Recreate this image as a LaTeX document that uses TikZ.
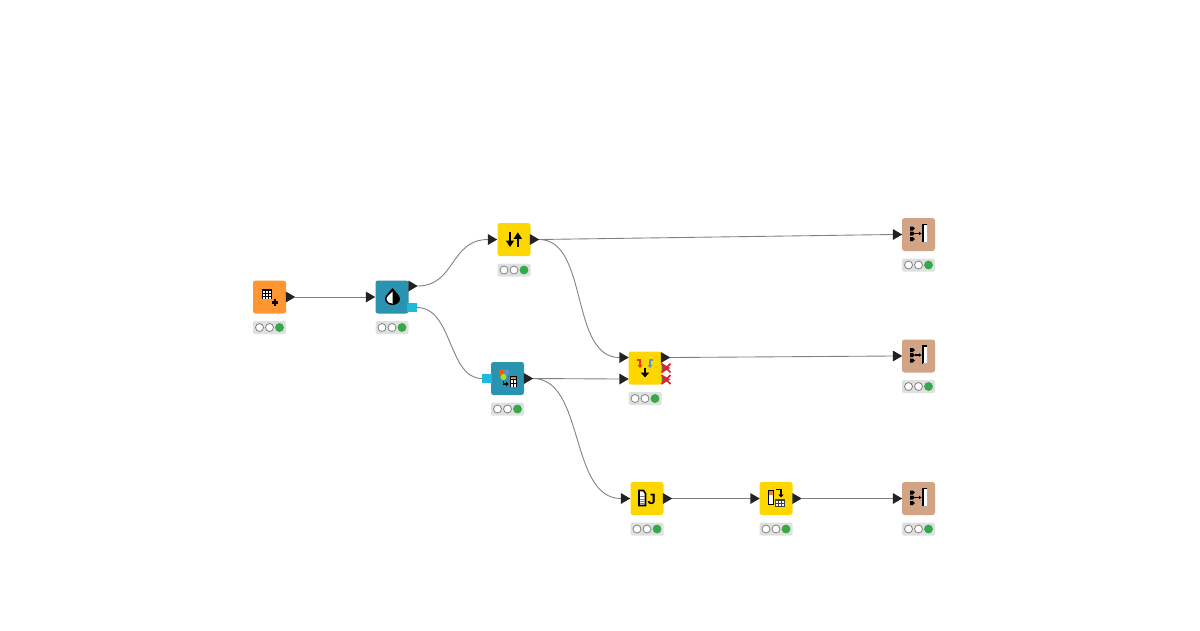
\documentclass[tikz,border=0pt]{standalone}
\usepackage{fontspec}
\setsansfont{Liberation Sans}
\usetikzlibrary{calc, positioning, arrows.meta}

\definecolor{knorange}{HTML}{FF9632}
\definecolor{knblue}{HTML}{2A93B0}
\definecolor{knyellow}{HTML}{FFD700}
\definecolor{knbrown}{HTML}{D2A384}
\definecolor{kncyan}{HTML}{1FB9DC}
\definecolor{kngreen}{HTML}{37A84A}
\definecolor{knbar}{HTML}{DFE1E0}
\definecolor{knport}{HTML}{222222}
\definecolor{knred}{HTML}{EE1C25}
\definecolor{knhead}{HTML}{E8873A}

\tikzset{
 knode/.style={rectangle, rounded corners=0.05cm, minimum size=0.66cm, inner sep=0pt, outer sep=0pt},
 lightbar/.style={rectangle, rounded corners=0.03cm, fill=knbar, minimum width=0.66cm, minimum height=0.26cm, inner sep=0pt},
 lamp/.style={circle, draw=black!50, line width=0.45pt, fill=white, minimum size=0.16cm, inner sep=0pt},
 wire/.style={black!50, line width=0.5pt},
 portin/.pic={\fill[knport] (-4.7,-5.5) -- (4.7,0) -- (-4.7,5.5) -- cycle;},
 portcyan/.pic={\fill[kncyan] (-5,-4.5) rectangle (5,4.5);},
 deadport/.pic={
  \fill[knport!70] (-4.5,-5) -- (4.5,0) -- (-4.5,5) -- cycle;
  \draw[knred, line width=1pt] (-4.5,-4.5) -- (4.5,4.5) (-4.5,4.5) -- (4.5,-4.5);},
 arrowdown/.pic={\fill (-1,-7.5) rectangle (1,2); \fill (-4.2,1) -- (4.2,1) -- (0,7.5) -- cycle;},
 arrowup/.pic={\fill (-1,7.5) rectangle (1,-2); \fill (-4.2,-1) -- (4.2,-1) -- (0,-7.5) -- cycle;},
 gridicon/.pic={
  \fill[black] (0,0) rectangle (10,10);
  \foreach \i in {1,4,7} \foreach \j in {1.5,4.5,7.5} {\fill[white] (\i,\j) rectangle ++(2,2);}},
 toicon/.pic={
  \fill (-8.5,-8) -- (-5.5,-8) -- (-3.7,-6) -- (-5.5,-4) -- (-8.5,-4) -- cycle;
  \fill (-8.5,-3) -- (-5.5,-3) -- (-3.7,-1) -- (-5.5,1) -- (-8.5,1) -- cycle;
  \fill (-8.5,2.5) -- (-5.5,2.5) -- (-3.7,4.5) -- (-5.5,6.5) -- (-8.5,6.5) -- cycle;
  \draw[line width=0.6pt] (-3.5,-1) -- (1.5,-1);
  \fill (3,-1) -- (0.5,-2.8) -- (0.5,0.8) -- cycle;
  \fill[white] (4.5,-10) rectangle (8.5,7.5);
  \draw[black, line width=0.7pt] (8.5,-10) -- (4.5,-10) -- (4.5,7.5);
  \draw[black!30, line width=0.5pt] (4.5,7.5) -- (8.5,7.5) -- (8.5,-10);},
}

\begin{document}
\begin{tikzpicture}[x=0.02cm, y=-0.02cm]
 \useasboundingbox (0,0) rectangle (1200,630);
 \fill[white] (0,0) rectangle (1200,630);

 \node[knode, fill=knorange] (creator) at (269.5,297) {};
 \node[knode, fill=knblue] (density) at (392,297) {};
 \node[knode, fill=knyellow] (sorter) at (514,239.5) {};
 \node[knode, fill=knblue] (colorer) at (507.5,378.5) {};
 \node[knode, fill=knyellow] (merger) at (645,368) {};
 \node[knode, fill=knyellow] (jsonwriter) at (647,498.5) {};
 \node[knode, fill=knyellow] (converter) at (776,498.5) {};
 \node[knode, fill=knbrown] (outa) at (918.5,234.5) {};
 \node[knode, fill=knbrown] (outb) at (918.5,356) {};
 \node[knode, fill=knbrown] (outc) at (918.5,498.5) {};

 % traffic lights
 \foreach \n in {creator, density, sorter, colorer, merger, jsonwriter, converter, outa, outb, outc} {
  \node[lightbar] (\n bar) at ($(\n)+(0,30.5)$) {};
  \node[lamp] at ($(\n bar)+(-10,0)$) {};
  \node[lamp] at ($(\n bar)+(0,0)$) {};
  \node[lamp, fill=kngreen, draw=kngreen] at ($(\n bar)+(10,0)$) {};
 }

 % port ends
 \coordinate (creatorout) at ($(creator)+(25.5,0)$);
 \coordinate (densityin) at ($(density)+(-26,0)$);
 \coordinate (densityout) at ($(density)+(25.5,-11)$);
 \coordinate (densitycyan) at ($(density)+(25,10.5)$);
 \coordinate (sorterin) at ($(sorter)+(-26,0)$);
 \coordinate (sorterout) at ($(sorter)+(25,0)$);
 \coordinate (colorerin) at ($(colorer)+(-25.5,0)$);
 \coordinate (colorerout) at ($(colorer)+(25.5,0)$);
 \coordinate (mergerina) at ($(merger)+(-25.5,-10.5)$);
 \coordinate (mergerinb) at ($(merger)+(-25.5,11)$);
 \coordinate (mergerout) at ($(merger)+(25,-10.5)$);
 \coordinate (jsonin) at ($(jsonwriter)+(-26,0)$);
 \coordinate (jsonout) at ($(jsonwriter)+(25,0)$);
 \coordinate (convin) at ($(converter)+(-25.5,0)$);
 \coordinate (convout) at ($(converter)+(25.5,0)$);
 \coordinate (outain) at ($(outa)+(-25.5,0)$);
 \coordinate (outbin) at ($(outb)+(-25.5,0)$);
 \coordinate (outcin) at ($(outc)+(-25.5,0)$);

 % connections
 \draw[wire] (creatorout) -- (densityin);
 \draw[wire] (densityout) .. controls ($(densityout)+(38,0)$) and ($(sorterin)+(-38,0)$) .. (sorterin);
 \draw[wire] (densitycyan) .. controls ($(densitycyan)+(36,0)$) and ($(colorerin)+(-34,0)$) .. (colorerin);
 \draw[wire] (sorterout) -- (outain);
 \draw[wire] (sorterout) .. controls ($(sorterout)+(50,0)$) and ($(mergerina)+(-50,0)$) .. (mergerina);
 \draw[wire] (colorerout) -- (mergerinb);
 \draw[wire] (colorerout) .. controls ($(colorerout)+(52,0)$) and ($(jsonin)+(-52,0)$) .. (jsonin);
 \draw[wire] (mergerout) -- (outbin);
 \draw[wire] (jsonout) -- (convin);
 \draw[wire] (convout) -- (outcin);

 % ports
 \foreach \c in {creatorout, densityout, sorterout, colorerout, mergerout, jsonout, convout} {
  \pic at ($(\c)+(-4.5,0)$) {portin};
 }
 \foreach \c in {densityin, sorterin, mergerina, mergerinb, jsonin, convin, outain, outbin, outcin} {
  \pic at ($(\c)+(4.5,0)$) {portin};
 }
 \pic at ($(density)+(20,10.5)$) {portcyan};
 \pic at ($(colorer)+(-20.5,0)$) {portcyan};
 \pic at ($(merger)+(21,0)$) {deadport};
 \pic at ($(merger)+(21,11.5)$) {deadport};

 % icons
 \pic at ($(creator)+(-7.7,-8)$) {gridicon};
 \fill ($(creator)+(4,2)$) rectangle ($(creator)+(6.5,9)$);
 \fill ($(creator)+(2,4.3)$) rectangle ($(creator)+(8.5,6.7)$);

 \fill[black] ($(density)+(0.5,-9)$) .. controls ($(density)+(-3,-4.5)$) and ($(density)+(-7,-1.5)$) .. ($(density)+(-7,2)$) .. controls ($(density)+(-7,5.5)$) and ($(density)+(-3,8)$) .. ($(density)+(0.5,8)$) .. controls ($(density)+(4,8)$) and ($(density)+(8,5.5)$) .. ($(density)+(8,2)$) .. controls ($(density)+(8,-1.5)$) and ($(density)+(4,-4.5)$) .. cycle;
 \fill[white] ($(density)+(0.5,-5.5)$) .. controls ($(density)+(-2,-2.5)$) and ($(density)+(-5.5,-0.5)$) .. ($(density)+(-5.5,2.2)$) .. controls ($(density)+(-5.5,4.7)$) and ($(density)+(-2.5,6.6)$) .. ($(density)+(0.5,6.6)$) -- cycle;

 \pic[black] at ($(sorter)+(-4,0)$) {arrowdown};
 \pic[black] at ($(sorter)+(3.8,0.3)$) {arrowup};

 \fill[red!65!yellow] ($(colorer)+(-5.5,-6)$) circle (3.1);
 \fill[cyan!55!blue!70] ($(colorer)+(-1,-6)$) circle (3.1);
 \fill[yellow!70!green] ($(colorer)+(-4,-1.5)$) circle (3.1);
 \draw[line width=0.8pt] ($(colorer)+(-4.2,2)$) -- ($(colorer)+(-4.2,5.5)$) -- ($(colorer)+(-1,5.5)$);
 \fill ($(colorer)+(1.2,5.5)$) -- ($(colorer)+(-1.5,3.2)$) -- ($(colorer)+(-1.5,7.8)$) -- cycle;
 \fill ($(colorer)+(2.5,-2.5)$) rectangle ($(colorer)+(9.2,8.5)$);
 \fill[knhead] ($(colorer)+(3,-2)$) rectangle ($(colorer)+(8.7,0.5)$);
 \foreach \i in {3,6.2} \foreach \j in {1.5,5.2} {
  \fill[white] ($(colorer)+(\i,\j)$) rectangle ++(2.5,2.8);
 }

 \draw[knred!80!orange, line width=0.9pt] ($(merger)+(-8,-8)$) -- ($(merger)+(-5,-8)$) -- ($(merger)+(-5,-2)$);
 \fill[knred!80!orange] ($(merger)+(-5,0)$) -- ($(merger)+(-7.5,-3)$) -- ($(merger)+(-2.5,-3)$) -- cycle;
 \draw[cyan!60!blue!70, line width=0.9pt] ($(merger)+(8,-8)$) -- ($(merger)+(5,-8)$) -- ($(merger)+(5,-2)$);
 \fill[cyan!60!blue!70] ($(merger)+(5,0)$) -- ($(merger)+(2.5,-3)$) -- ($(merger)+(7.5,-3)$) -- cycle;
 \fill ($(merger)+(-1,0)$) rectangle ($(merger)+(1,6)$);
 \fill ($(merger)+(-4.4,4.5)$) -- ($(merger)+(4.4,4.5)$) -- ($(merger)+(0,9.3)$) -- cycle;

 % json doc
 \draw[black, fill=white, line width=0.9pt] ($(jsonwriter)+(-8,-8)$) -- ($(jsonwriter)+(-3.5,-8)$) -- ($(jsonwriter)+(-1.5,-5)$) -- ($(jsonwriter)+(-1.5,7)$) -- ($(jsonwriter)+(-8,7)$) -- cycle;
 \foreach \d in {-2,0.5,3,5} {
  \draw[black!50, line width=0.5pt] ($(jsonwriter)+(-7,\d)$) -- ($(jsonwriter)+(-2.5,\d)$);
 }
 \node[font=\sffamily\bfseries\fontsize{8.5pt}{8.5pt}\selectfont, inner sep=0pt] (jsonletter) at ($(jsonwriter)+(4.7,0.8)$) {J};

 % converter
 \draw[black, fill=white, line width=0.8pt] ($(converter)+(-7.7,-8.2)$) rectangle ($(converter)+(-2.7,5.8)$);
 \fill[knhead] ($(converter)+(-7.2,-7.7)$) rectangle ($(converter)+(-3.2,-4)$);
 \draw[line width=0.8pt] ($(converter)+(0.3,-8.8)$) -- ($(converter)+(5,-8.8)$) -- ($(converter)+(5,-3.5)$);
 \fill ($(converter)+(5,-1.2)$) -- ($(converter)+(2.2,-4)$) -- ($(converter)+(7.8,-4)$) -- cycle;
 \fill[black!75] ($(converter)+(-0.7,0.5)$) rectangle ($(converter)+(8.5,8.5)$);
 \foreach \i in {-0.2,2.8,5.8} \foreach \j in {2.2,5.2} {
  \fill[white] ($(converter)+(\i,\j)$) rectangle ++(2.2,2.6);
 }

 \pic at (outa) {toicon};
 \pic at (outb) {toicon};
 \pic at (outc) {toicon};
\end{tikzpicture}
\end{document}
